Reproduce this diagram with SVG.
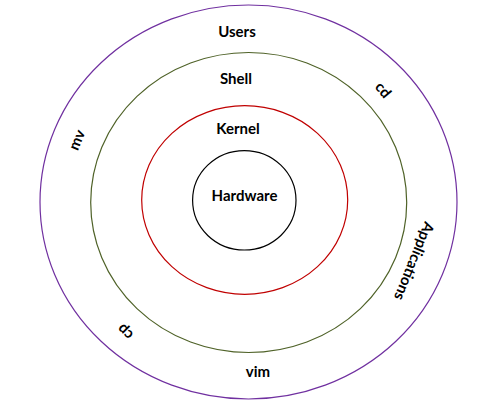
<svg xmlns="http://www.w3.org/2000/svg" width="490" height="415" viewBox="0 0 490 415">
<style>
.ring{fill:none;stroke-width:1.2}
.t{font-family:Lato,"Open Sans","Liberation Sans",sans-serif;font-weight:bold;font-size:15px;fill:#000;text-anchor:middle}
</style>
<rect width="490" height="415" fill="#fff"/>
<g id="users">
<ellipse class="ring" cx="248.5" cy="202" rx="208.5" ry="197" stroke="#7030A0"/>
<text class="t" x="237" y="37">Users</text>
<text class="t" transform="translate(383,90) rotate(50)" y="5">cd</text>
<text class="t" transform="translate(77,140) rotate(-68)" y="5">mv</text>
<text class="t" transform="translate(125,332) rotate(-135)" y="5">cp</text>
<text class="t" transform="translate(414,261) rotate(112)" y="5" font-size="14">Applications</text>
<text class="t" x="258" y="377">vim</text>
</g>
<g id="shell">
<ellipse class="ring" cx="248.7" cy="202.5" rx="158" ry="150" stroke="#4F6228"/>
<text class="t" x="236" y="84">Shell</text>
</g>
<g id="kernel">
<ellipse class="ring" cx="244.7" cy="200" rx="103" ry="94.3" stroke="#C00000"/>
<text class="t" x="238" y="134">Kernel</text>
</g>
<g id="hardware">
<ellipse class="ring" cx="244.3" cy="200.3" rx="51.7" ry="49.7" stroke="#000"/>
<text class="t" x="244.5" y="201">Hardware</text>
</g>
<g id="connectors"/>
</svg>
